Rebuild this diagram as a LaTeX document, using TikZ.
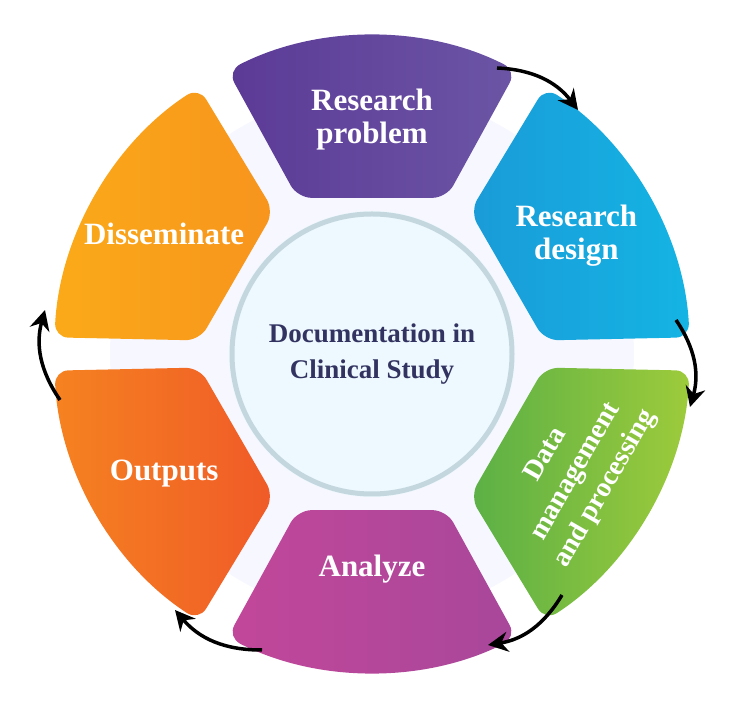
\documentclass[tikz,border=0pt]{standalone}
\usepackage{fontspec}
\setmainfont{Liberation Serif}
\usetikzlibrary{arrows.meta,calc}
\definecolor{pA}{HTML}{5B3A96}\definecolor{pB}{HTML}{6C55A5}
\definecolor{bA}{HTML}{1A9BD8}\definecolor{bB}{HTML}{14B4E4}
\definecolor{gA}{HTML}{5BB046}\definecolor{gB}{HTML}{9DCB3B}
\definecolor{mA}{HTML}{C2479A}\definecolor{mB}{HTML}{A8479A}
\definecolor{oA}{HTML}{F58220}\definecolor{oB}{HTML}{F05A28}
\definecolor{yA}{HTML}{FBAA19}\definecolor{yB}{HTML}{F7941D}
\begin{document}
\begin{tikzpicture}[x=1pt,y=1pt,
  seglabel/.style={text=white,font=\bfseries\fontsize{31}{33}\selectfont,align=center},
  cyc/.style={line width=3.5pt,-{Stealth[length=20pt,width=20pt]}}]
\useasboundingbox (0,0) rectangle (750,720);
\coordinate (C) at (372,366);
\fill[blue!3] (C) circle (262);
\newcommand\seg[4]{%
  \path[rounded corners=14,left color=#2,right color=#3]
   ($(C)+(#1-27:318)$) arc[start angle=#1-27,end angle=#1+27,radius=318]
   -- ($(C)+(#1+25.5:173)$) -- ($(C)+(#1-25.5:173)$) -- cycle;}
\seg{90}{pA}{pB}{}
\seg{30}{bA}{bB}{}
\seg{-30}{gA}{gB}{}
\seg{-90}{mA}{mB}{}
\seg{210}{oA}{oB}{}
\seg{150}{yA}{yB}{}
\fill[cyan!7] (C) circle (143);
\draw[cyan!30!gray!40,line width=5pt] (C) circle (140);
\node[font=\bfseries\fontsize{27}{36}\selectfont,text=black!70!blue!60!gray,align=center] (ctr) at (C) {Documentation in\\Clinical Study};
\node[seglabel] (rp) at ($(C)+(90:234)$) {Research\\problem};
\node[seglabel] (rd) at ($(C)+(30:236)$) {Research\\design};
\node[seglabel,rotate=60,font=\bfseries\fontsize{28}{34}\selectfont] (dm) at ($(C)+(-30:236)$) {Data\\management\\and processing};
\node[seglabel] (an) at ($(C)+(-90:215)$) {Analyze};
\node[seglabel] (ou) at ($(C)+(210:240)$) {Outputs};
\node[seglabel] (di) at ($(C)+(150:240)$) {Disseminate};
\coordinate (a1s) at (497,652); \coordinate (a1e) at (578,610);
\coordinate (a2s) at (676,400); \coordinate (a2e) at (690,313);
\coordinate (a3s) at (562,125); \coordinate (a3e) at (488,75);
\coordinate (a4s) at (262,70); \coordinate (a4e) at (175,110);
\coordinate (a5s) at (60,320); \coordinate (a5e) at (45,410);
\draw[cyc] (a1s) to[bend left=25] (a1e);
\draw[cyc] (a2s) to[bend left=25] (a2e);
\draw[cyc] (a3s) to[bend left=25] (a3e);
\draw[cyc] (a4s) to[bend left=25] (a4e);
\draw[cyc] (a5s) to[bend left=25] (a5e);
\end{tikzpicture}
\end{document}
